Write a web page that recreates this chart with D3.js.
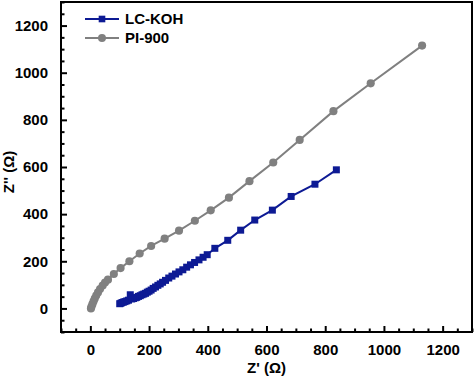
<!DOCTYPE html>
<html>
<head>
<meta charset="utf-8">
<script src="https://cdn.jsdelivr.net/npm/d3@7"></script>
<style>
  body { margin: 0; background: #fff; }
  svg text { font-family: Arial, "Liberation Sans", sans-serif; font-weight: bold; }
</style>
</head>
<body>
<div id="chart"></div>
<script>
// Nyquist data, Z' and Z'' in ohm
const seriesNames = ['LC-KOH', 'PI-900']
const seriesColors = ['#0d1a94', '#808080']

const lcZre = [100, 104, 108, 113, 118, 124, 130, 136, 141, 147, 153, 158, 164, 170, 176, 182, 188, 194, 200, 207, 214, 222, 230, 238, 246, 256, 267, 278, 290, 302, 315, 328, 341, 355, 370, 384, 398, 424, 468, 512, 560, 620, 684, 765, 838]
const lcZim = [20, 22, 25, 27, 29, 32, 35, 58, 40, 42, 45, 47, 51, 54, 58, 61, 64, 69, 73, 78, 85, 91, 98, 104, 111, 119, 129, 137, 146, 155, 164, 175, 185, 195, 206, 217, 228, 255, 289, 332, 375, 417, 475, 527, 588]

const piZre = [2, 4, 7, 11, 15, 20, 26, 33, 42, 50, 60, 80, 103, 133, 168, 207, 253, 302, 356, 410, 472, 542, 623, 713, 828, 955, 1130]
const piZim = [0, 8, 18, 30, 42, 55, 68, 82, 97, 110, 122, 146, 171, 200, 233, 265, 296, 330, 372, 416, 470, 540, 619, 715, 837, 955, 1115]

const xTicks = [0, 200, 400, 600, 800, 1000, 1200]
const yTicks = [0, 200, 400, 600, 800, 1000, 1200]

const W = 474, H = 378
const margin = { left: 61, right: 2, top: 2, bottom: 46 }
const pw = W - margin.left - margin.right
const ph = H - margin.top - margin.bottom

const svg = d3.select('#chart').append('svg').attr('width', W).attr('height', H)
const g = svg.append('g').attr('transform', `translate(${margin.left},${margin.top})`)

const x = d3.scaleLinear().domain([-100, 1300]).range([0, pw])
const y = d3.scaleLinear().domain([-100, 1300]).range([ph, 0])

svg.append('defs').append('clipPath').attr('id', 'clip')
  .append('rect').attr('width', pw).attr('height', ph)

// minor ticks every 50
const minor = d3.range(-100, 1301, 50).filter(v => v % 200 !== 0)
const fmt = d3.format('d')

const xAxis = g.append('g').attr('transform', `translate(0,${ph})`)
  .call(d3.axisBottom(x).tickValues(xTicks).tickFormat(fmt).tickSizeInner(-6).tickSizeOuter(0).tickPadding(12))
const xMinor = g.append('g').attr('transform', `translate(0,${ph})`)
  .call(d3.axisBottom(x).tickValues(minor).tickSizeInner(-3.5).tickSizeOuter(0).tickFormat(''))

const yAxis = g.append('g')
  .call(d3.axisLeft(y).tickValues(yTicks).tickFormat(fmt).tickSizeInner(-6).tickSizeOuter(0).tickPadding(13))
const yMinor = g.append('g')
  .call(d3.axisLeft(y).tickValues(minor).tickSizeInner(-3.5).tickSizeOuter(0).tickFormat(''))

;[xAxis, xMinor, yAxis, yMinor].forEach(a => {
  a.select('.domain').remove()
  a.selectAll('line').attr('stroke', '#000').attr('stroke-width', 2)
  a.selectAll('text').attr('font-size', 15).attr('fill', '#000')
})

// frame
g.append('rect').attr('width', pw).attr('height', ph)
  .attr('fill', 'none').attr('stroke', '#000').attr('stroke-width', 2)

const plot = g.append('g').attr('clip-path', 'url(#clip)')
const line = d3.line().x(d => x(d[0])).y(d => y(d[1]))

const lcData = d3.zip(lcZre, lcZim)
const piData = d3.zip(piZre, piZim)

function drawSeries (data, color, shape) {
  plot.append('path').datum(data)
    .attr('d', line).attr('fill', 'none').attr('stroke', color).attr('stroke-width', 2)
  const sym = d3.symbol().type(shape).size(shape === d3.symbolSquare ? 49 : 52)
  plot.selectAll(null).data(data).enter().append('path')
    .attr('d', sym)
    .attr('transform', d => `translate(${x(d[0])},${y(d[1])})`)
    .attr('fill', color)
}

drawSeries(piData, seriesColors[1], d3.symbolCircle)
drawSeries(lcData, seriesColors[0], d3.symbolSquare)

// legend
const shapes = [d3.symbolSquare, d3.symbolCircle]
const legend = svg.append('g').attr('transform', 'translate(85,19)')
seriesNames.forEach((name, i) => {
  const row = legend.append('g').attr('transform', `translate(0,${i * 19})`)
  row.append('line').attr('x1', 0).attr('x2', 34).attr('stroke', seriesColors[i]).attr('stroke-width', 2)
  row.append('path').attr('d', d3.symbol().type(shapes[i]).size(shapes[i] === d3.symbolSquare ? 44 : 50))
    .attr('transform', 'translate(17,0)').attr('fill', seriesColors[i])
  row.append('text').attr('x', 40).attr('dy', '0.36em').attr('font-size', 15).text(name)
})

// axis titles
svg.append('text').attr('x', margin.left + pw / 2).attr('y', 373)
  .attr('text-anchor', 'middle').attr('font-size', 15).text("Z' (\u03A9)")
svg.append('text').attr('transform', `translate(14,${margin.top + ph / 2 + 5}) rotate(-90)`)
  .attr('text-anchor', 'middle').attr('font-size', 15).text("Z'' (\u03A9)")
</script>
</body>
</html>
